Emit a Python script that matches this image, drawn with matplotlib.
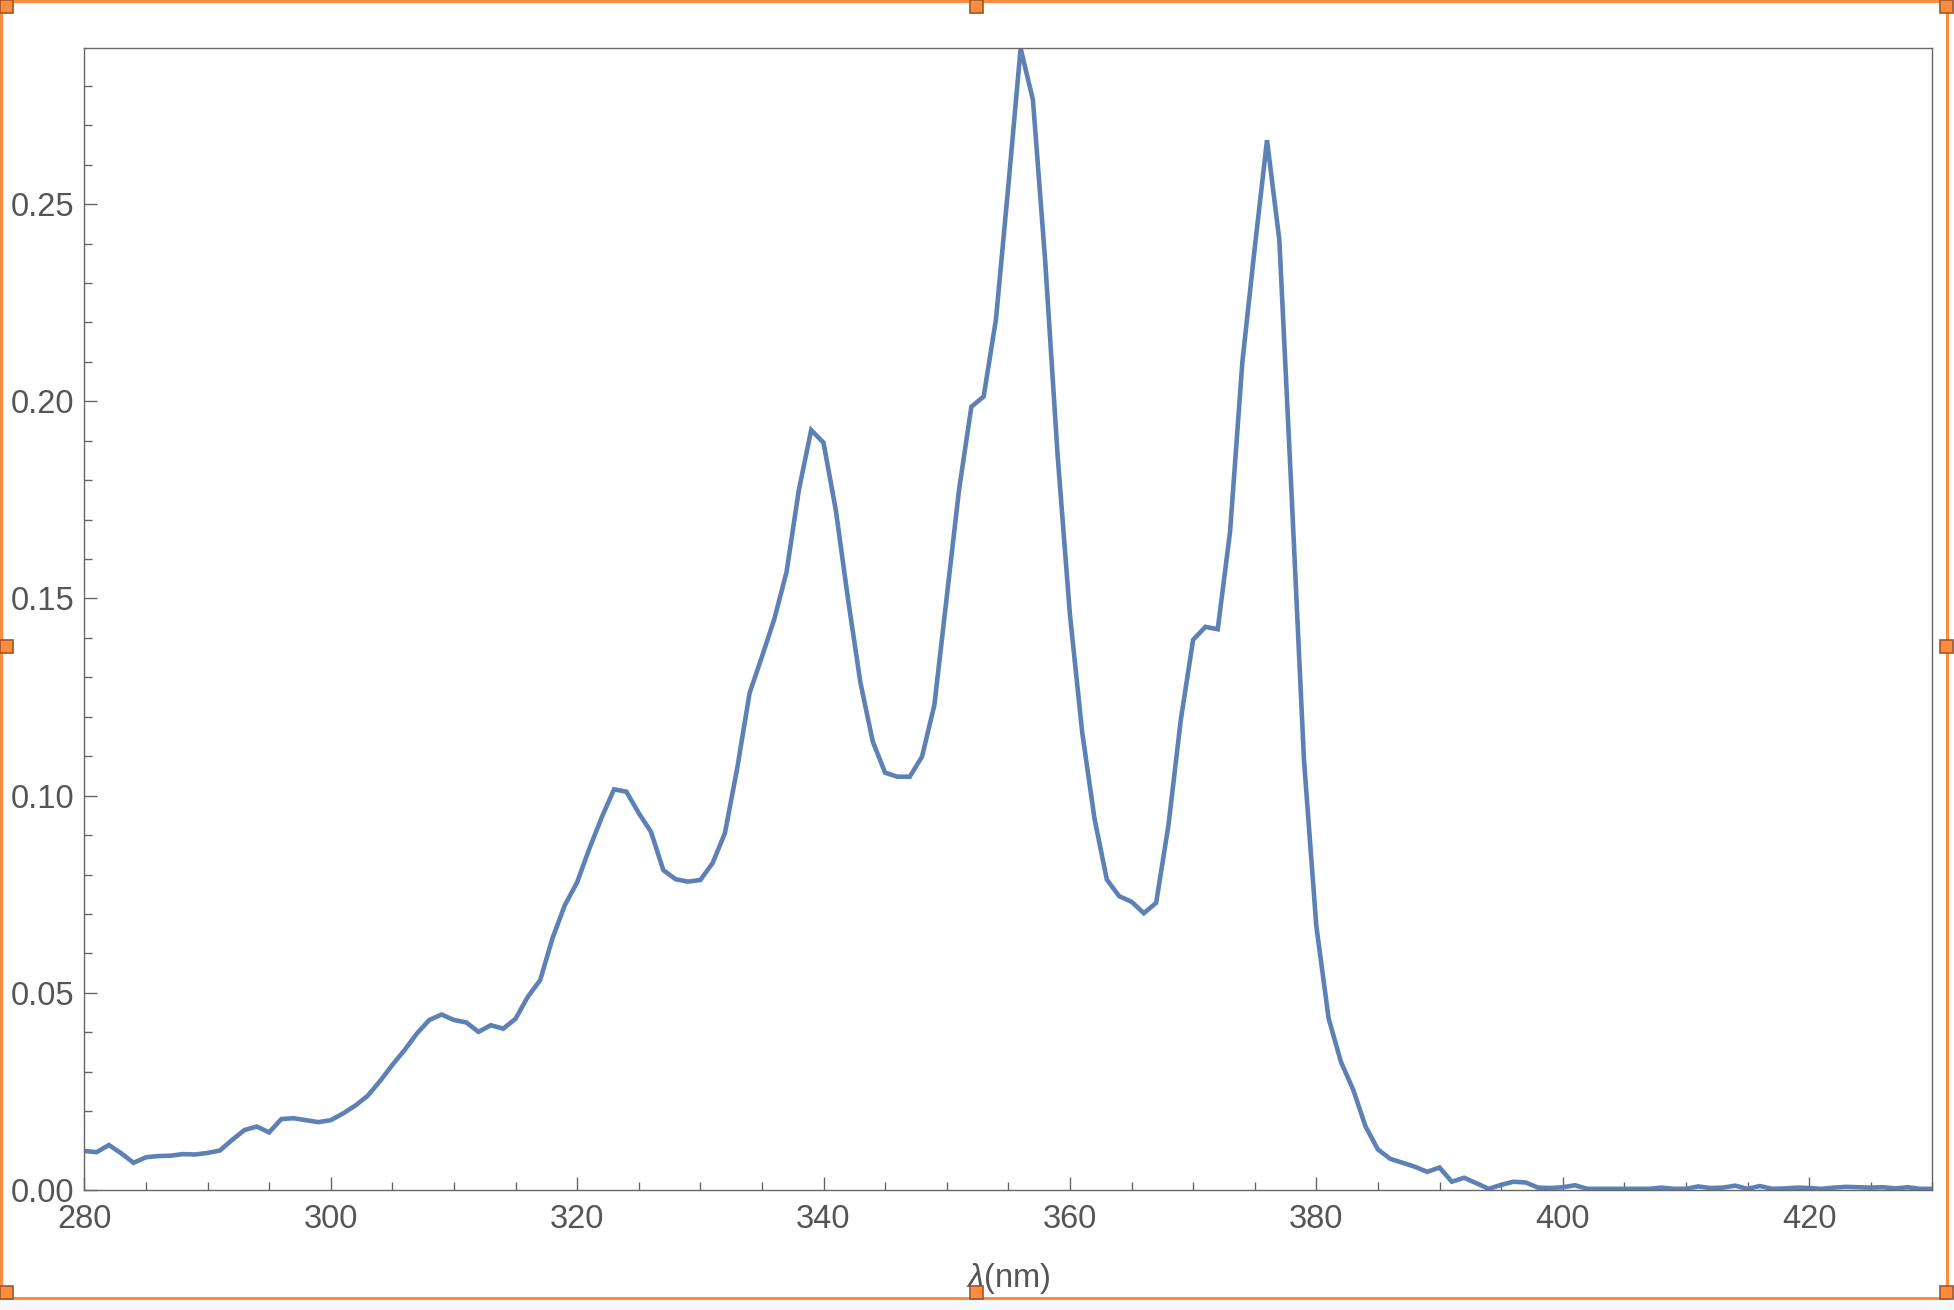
import matplotlib
matplotlib.use("Agg")
import matplotlib.pyplot as plt
import numpy as np
from matplotlib.patches import Rectangle
from matplotlib.ticker import MultipleLocator

# emission spectrum, 1 nm steps
wavelength = np.arange(280, 431)
intensity = [
    0.0099, 0.0096, 0.0114, 0.0093, 0.0069, 0.0083, 0.0086, 0.0087, 0.0091, 0.0090,
    0.0094, 0.0100, 0.0127, 0.0152, 0.0161, 0.0146, 0.0180, 0.0182, 0.0177, 0.0172,
    0.0177, 0.0194, 0.0214, 0.0239, 0.0276, 0.0317, 0.0355, 0.0397, 0.0431, 0.0445,
    0.0431, 0.0425, 0.0401, 0.0418, 0.0409, 0.0434, 0.0490, 0.0532, 0.0638, 0.0722,
    0.0780, 0.0866, 0.0945, 0.1016, 0.1010, 0.0956, 0.0908, 0.0811, 0.0788, 0.0782,
    0.0786, 0.0829, 0.0905, 0.1070, 0.1260, 0.1352, 0.1447, 0.1567, 0.1775, 0.1927,
    0.1895, 0.1724, 0.1496, 0.1286, 0.1137, 0.1058, 0.1048, 0.1048, 0.1099, 0.1230,
    0.1503, 0.1775, 0.1986, 0.2012, 0.2208, 0.2545, 0.2895, 0.2764, 0.2353, 0.1864,
    0.1460, 0.1160, 0.0941, 0.0787, 0.0745, 0.0731, 0.0702, 0.0728, 0.0925, 0.1192,
    0.1395, 0.1428, 0.1422, 0.1669, 0.2100, 0.2388, 0.2662, 0.2409, 0.1760, 0.1090,
    0.0670, 0.0435, 0.0325, 0.0254, 0.0161, 0.0103, 0.0079, 0.0069, 0.0059, 0.0046,
    0.0057, 0.0021, 0.0031, 0.0017, 0.0003, 0.0013, 0.0021, 0.0019, 0.0006, 0.0005,
    0.0007, 0.0012, 0.0003, 0.0003, 0.0003, 0.0003, 0.0003, 0.0003, 0.0006, 0.0003,
    0.0003, 0.0009, 0.0005, 0.0006, 0.0011, 0.0003, 0.0010, 0.0003, 0.0004, 0.0006,
    0.0005, 0.0003, 0.0006, 0.0008, 0.0007, 0.0006, 0.0007, 0.0004, 0.0007, 0.0003,
    0.0003,
]

x_major = [280, 300, 320, 340, 360, 380, 400, 420]
y_major = [0.00, 0.05, 0.10, 0.15, 0.20, 0.25]

LINE = "#5e81b5"
GREY = "#555555"
ORANGE = "#ff8c3c"

plt.rcParams["font.family"] = ["Liberation Sans", "DejaVu Sans"]
plt.rcParams["mathtext.fontset"] = "custom"
plt.rcParams["mathtext.it"] = "Liberation Sans:italic"
plt.rcParams["mathtext.rm"] = "Liberation Sans"

W, H = 1954, 1310
fig = plt.figure(figsize=(W / 100, H / 100), dpi=100)
ax = fig.add_axes([84.3 / W, 1 - 1190 / H, (1932.3 - 84.3) / W, (1190 - 48.3) / H])

ax.plot(wavelength, intensity, color=LINE, lw=3.3, solid_joinstyle="miter")

ax.set_xlim(280, 430)
ax.set_ylim(0, 0.2895)
ax.set_xticks(x_major)
ax.set_yticks(y_major)
ax.set_yticklabels([f"{v:.2f}" for v in y_major])
ax.xaxis.set_minor_locator(MultipleLocator(5))
ax.yaxis.set_minor_locator(MultipleLocator(0.01))

for s in ax.spines.values():
    s.set_color("#666666")
    s.set_linewidth(1.0)

ax.tick_params(which="both", direction="in", color="#666666", width=1.0,
               top=False, right=False, labelcolor=GREY, labelsize=23.5)
ax.tick_params(which="major", length=9.5)
ax.tick_params(which="minor", length=6)
ax.tick_params(axis="x", pad=10)
ax.tick_params(axis="y", pad=7)

ax.set_xlabel(r"$\lambda$(nm)", fontsize=23.5, color=GREY, labelpad=19)

# selection frame around the graphic
fig.patches.append(Rectangle((0, 0), 1, 10 / H, transform=fig.transFigure,
                             facecolor="#f5f9fd", edgecolor="none", zorder=-1))
for (x0, y0, w, h) in [(0, 0, W - 4, 3), (0, H - 13, W - 4, 3),
                       (0, 0, 3, H - 10), (W - 8, 0, 3, H - 10)]:
    fig.patches.append(Rectangle((x0 / W, 1 - (y0 + h) / H), w / W, h / H,
                                 transform=fig.transFigure, facecolor=ORANGE,
                                 edgecolor="none"))
handles = [(0, 0), (970, 0), (W - 14, 0),
           (0, 640), (W - 14, 640),
           (0, H - 24), (970, H - 24), (W - 14, H - 24)]
for cx, cy in handles:
    fig.patches.append(Rectangle((cx / W, 1 - (cy + 13) / H), 13 / W, 13 / H,
                                 transform=fig.transFigure, facecolor=ORANGE,
                                 edgecolor="#a0552a", linewidth=1.2))

fig.savefig("out.png", dpi=100)
